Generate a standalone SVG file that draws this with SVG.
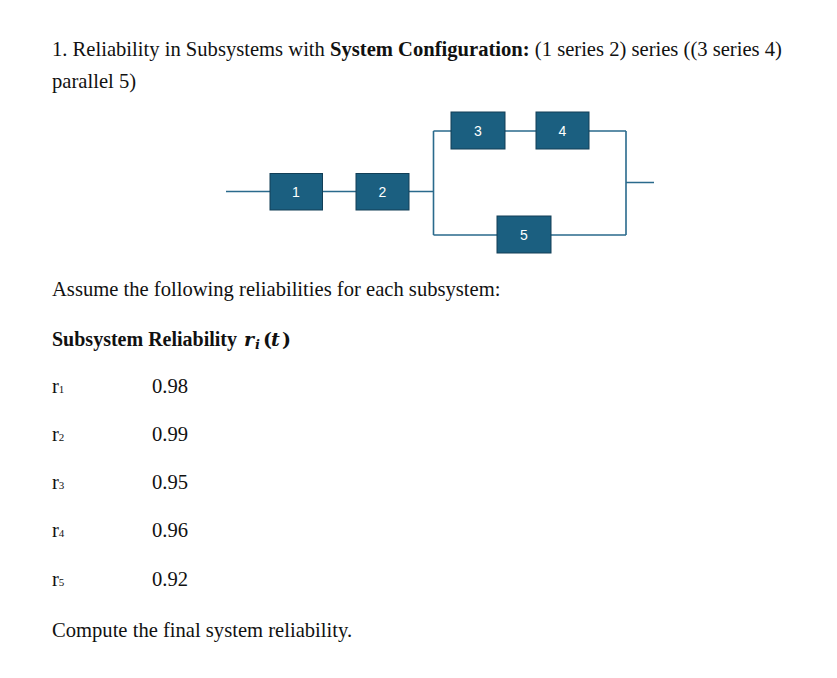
<svg xmlns="http://www.w3.org/2000/svg" width="837" height="678" viewBox="0 0 837 678">
<style>
.t{font-family:"Liberation Serif","Times New Roman",serif;font-size:20.6px;fill:#111}
.b{font-weight:bold}
.box{fill:#1b5f80;stroke:#123f57;stroke-width:1}
.lbl{font-family:"Liberation Sans",Arial,sans-serif;font-size:14px;fill:#fff;text-anchor:middle}
.wire{fill:none;stroke:#2a6a8c;stroke-width:1.6}
.sub{font-size:11px}
.m{font-family:"DejaVu Serif","Liberation Serif",serif;font-weight:bold}
</style>
<rect width="837" height="678" fill="#fff"/>
<text class="t" x="52" y="56">1. Reliability in Subsystems with <tspan class="b">System Configuration:</tspan> (1 series 2) series ((3 series 4)</text>
<text class="t" x="52" y="88">parallel 5)</text>
<g id="connectors">
<path class="wire" d="M226 191.5H270M322 191.5H356M409 191.5H433.5M433.5 131V235M433.5 131H451M505 131H536M589 131H626M433.5 235H497M551 235H626M626 131V235M626 182.5H654"/>
</g>
<g id="n1"><rect class="box" x="270" y="173.5" width="52.5" height="36.5"/><text class="lbl" x="296" y="197">1</text></g>
<g id="n2"><rect class="box" x="356" y="173.5" width="53" height="36.5"/><text class="lbl" x="382.5" y="197">2</text></g>
<g id="n3"><rect class="box" x="451" y="112" width="54" height="37"/><text class="lbl" x="478" y="135.5">3</text></g>
<g id="n4"><rect class="box" x="536" y="112" width="53" height="37"/><text class="lbl" x="562.5" y="135.5">4</text></g>
<g id="n5"><rect class="box" x="497" y="216" width="54" height="37"/><text class="lbl" x="524" y="239.5">5</text></g>
<text class="t" x="52" y="296">Assume the following reliabilities for each subsystem:</text>
<text class="t b" x="52" y="346" style="font-size:20px">Subsystem Reliability</text>
<text class="t m" y="346"><tspan x="244" font-style="italic" font-size="19px">r</tspan><tspan x="255" dy="3" font-style="italic" font-size="13px">i</tspan><tspan x="263" dy="-3" font-size="19px">(</tspan><tspan x="271" font-style="italic" font-size="19px">t</tspan><tspan x="282" font-size="19px">)</tspan></text>
<text class="t" x="52" y="393">r<tspan class="sub">1</tspan></text>
<text class="t" x="152" y="393">0.98</text>
<text class="t" x="52" y="441">r<tspan class="sub">2</tspan></text>
<text class="t" x="152" y="441">0.99</text>
<text class="t" x="52" y="489">r<tspan class="sub">3</tspan></text>
<text class="t" x="152" y="489">0.95</text>
<text class="t" x="52" y="537">r<tspan class="sub">4</tspan></text>
<text class="t" x="152" y="537">0.96</text>
<text class="t" x="52" y="586">r<tspan class="sub">5</tspan></text>
<text class="t" x="152" y="586">0.92</text>
<text class="t" x="52" y="637">Compute the final system reliability.</text>
</svg>
